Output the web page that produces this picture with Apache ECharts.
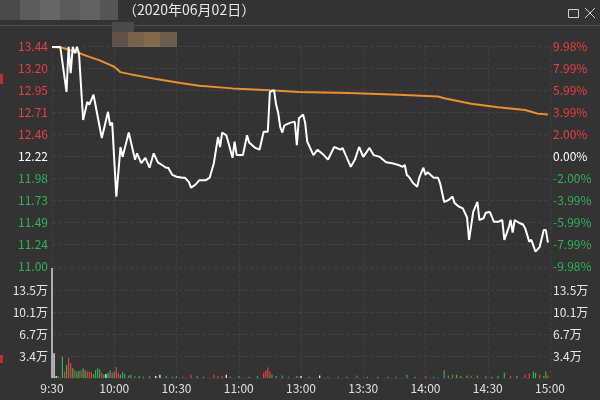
<!DOCTYPE html>
<html><head><meta charset="utf-8">
<script src="https://cdn.jsdelivr.net/npm/echarts@6/dist/echarts.min.js"></script>
<style>html,body{margin:0;padding:0;background:#333333;}#c{width:600px;height:400px;}</style>
</head><body><div id="c"></div>
<script>
const LOW = 11.00;
const priceTicks = ['11.00','11.24','11.49','11.73','11.98','12.22','12.46','12.71','12.95','13.20','13.44'];
const pctTicks = ['-9.98%','-7.99%','-5.99%','-3.99%','-2.00%','0.00%','2.00%','3.99%','5.99%','7.99%','9.98%'];
const volTicks = ['', '3.4万', '6.7万', '10.1万', '13.5万', ''];
const timeTicks = ['9:30','10:00','10:30','11:00','13:00','13:30','14:00','14:30','15:00'];

const priceMin = [0,4,7,8,9,10,11,12,13,15,17,18,20,24,27,28,29,31,33,34,37,40,41,43,45,47,49,51,53,55,56,58,60,63,64,66,67,69,71,74,76,78,80,81,82,84,85,87,88,89,92,93,94,95,98,100,102,104,105,107,108,109,110,111,112,115,117,118,119,121,122,123,126,128,131,133,136,139,140,144,146,148,150,153,155,158,161,164,167,169,170,171,172,174,176,177,179,180,181,184,186,187,189,191,193,194,196,198,200,201,203,205,206,208,209,211,213,215,217,218,220,221,222,223,225,227,228,230,231,233,235,237,238,239];
const priceVal = [13.43,13.43,12.93,13.43,13.14,13.43,13.36,13.43,13.36,12.62,12.82,12.79,12.90,12.42,12.71,12.56,12.59,11.77,12.32,12.21,12.48,12.18,12.25,12.14,12.20,12.09,12.25,12.15,12.12,12.09,12.09,12.01,11.99,11.98,11.98,11.93,11.87,11.90,11.95,11.95,11.98,12.14,12.43,12.32,12.48,12.45,12.37,12.20,12.38,12.23,12.23,12.34,12.45,12.37,12.31,12.29,12.49,12.49,12.93,12.95,12.79,12.70,12.54,12.48,12.56,12.59,12.60,12.34,12.64,12.68,12.59,12.38,12.23,12.29,12.23,12.18,12.32,12.29,12.31,12.10,12.18,12.32,12.21,12.31,12.23,12.21,12.15,12.14,12.12,12.10,12.12,12.01,11.99,11.92,11.88,11.98,12.09,12.01,12.04,11.98,11.98,11.92,11.71,11.73,11.77,11.70,11.66,11.64,11.54,11.29,11.60,11.71,11.51,11.53,11.59,11.60,11.49,11.49,11.51,11.29,11.42,11.51,11.37,11.51,11.48,11.46,11.42,11.27,11.29,11.16,11.21,11.40,11.40,11.26];

const avgMin = [0,5,12,18,23,26,30,33,39,51,62,71,87,105,119,143,167,186,189,202,215,228,231,234,239];
const avgVal = [13.43,13.42,13.37,13.32,13.28,13.25,13.21,13.15,13.12,13.07,13.03,13.00,12.97,12.95,12.93,12.92,12.90,12.88,12.86,12.80,12.76,12.73,12.71,12.69,12.68];

const volMin = [0,1,2,3,5,6,7,8,9,10,11,12,13,14,15,16,17,18,19,20,21,22,23,24,25,26,27,28,29,30,31,32,33,34,35,37,38,40,42,44,47,50,52,55,58,60,63,67,70,73,78,80,82,84,86,90,95,99,102,103,104,105,106,108,111,114,118,120,124,129,133,138,142,147,152,157,162,166,171,175,180,184,189,191,193,195,197,200,202,205,209,212,215,218,221,224,228,230,232,233,235,237,238,239];
const volVal = [16.9,3.8,0.3,0.3,3.3,1.0,2.0,3.1,2.3,1.5,1.2,1.0,1.1,1.2,1.5,1.2,1.0,1.0,0.9,0.6,1.2,1.5,1.3,0.8,0.5,0.6,0.8,1.2,0.8,1.0,1.7,0.8,0.5,0.9,0.6,0.4,0.5,0.3,0.3,0.2,0.3,0.3,0.5,0.3,0.2,0.3,0.2,0.5,0.3,0.2,0.5,0.3,0.3,0.5,0.2,0.3,0.2,0.3,0.8,1.1,1.6,1.0,0.5,0.3,0.4,0.2,0.3,0.3,0.2,0.4,0.2,0.2,0.2,0.4,0.2,0.2,0.2,0.2,0.5,0.2,0.3,0.2,1.2,0.4,0.5,0.5,0.3,0.4,0.3,0.4,0.3,0.2,0.3,0.8,0.3,0.3,0.5,0.7,1.0,0.8,0.5,0.3,1.0,0.4];
const volDir = ['f','f','f','d','d','u','d','u','u','d','u','d','d','u','d','d','u','u','u','d','d','d','d','u','d','f','d','d','u','d','u','u','d','d','d','d','d','u','d','d','d','f','f','d','d','d','u','u','d','d','u','u','u','f','d','d','d','d','u','u','u','u','d','d','d','u','d','f','d','f','d','u','d','u','d','d','d','u','d','d','u','d','d','d','u','d','d','d','u','d','u','d','d','d','u','d','u','u','d','d','u','d','d','u'];

const RED = '#e8403f', GREEN = '#2fb455', WHITE = '#ffffff';
const FONT = 'Noto Sans CJK SC';
const P_INT = 0.244, V_INT = 3.37;

const chart = echarts.init(document.getElementById('c'), null, {renderer: 'canvas'});
const split = {show: true, lineStyle: {color: 'rgba(255,255,255,0.06)', type: 'dashed', width: 1}};

function priceColor(v) { const i = Math.round(Number(v) / P_INT); return i > 5 ? RED : (i === 5 ? WHITE : GREEN); }

chart.setOption({
  animation: false,
  backgroundColor: '#333333',
  grid: [
    {left: 52, right: 50, top: 46, height: 220},
    {left: 52, right: 50, top: 268, height: 110}
  ],
  xAxis: [
    {type: 'value', gridIndex: 0, min: 0, max: 240, interval: 30,
     axisLine: {show: false}, axisTick: {show: false}, axisLabel: {show: false}, splitLine: split},
    {type: 'value', gridIndex: 1, min: 0, max: 240, interval: 30,
     axisLine: {show: false}, axisTick: {show: false}, splitLine: split,
     axisLabel: {color: '#e0e0e0', fontFamily: FONT, fontSize: 12, margin: 4,
       formatter: v => timeTicks[Math.round(v / 30)]}}
  ],
  yAxis: [
    {type: 'value', gridIndex: 0, min: 0, max: 2.44, interval: P_INT, position: 'left',
     axisLine: {show: false}, axisTick: {show: false}, splitLine: split,
     axisLabel: {fontFamily: FONT, fontSize: 12, margin: 4, color: priceColor,
       formatter: v => priceTicks[Math.round(v / P_INT)]}},
    {type: 'value', gridIndex: 0, min: 0, max: 2.44, interval: P_INT, position: 'right',
     axisLine: {show: false}, axisTick: {show: false}, splitLine: {show: false},
     axisLabel: {fontFamily: FONT, fontSize: 12, margin: 3, color: priceColor,
       formatter: v => pctTicks[Math.round(v / P_INT)]}},
    {type: 'value', gridIndex: 1, min: 0, max: 16.85, interval: V_INT, position: 'left',
     axisLine: {show: false}, axisTick: {show: false}, splitLine: split,
     axisLabel: {fontFamily: FONT, fontSize: 12, margin: 4, color: '#e6e6e6',
       formatter: v => volTicks[Math.round(v / V_INT)]}},
    {type: 'value', gridIndex: 1, min: 0, max: 16.85, interval: V_INT, position: 'right',
     axisLine: {show: false}, axisTick: {show: false}, splitLine: {show: false},
     axisLabel: {fontFamily: FONT, fontSize: 12, margin: 3, color: '#e6e6e6',
       formatter: v => volTicks[Math.round(v / V_INT)]}}
  ],
  series: [
    {type: 'bar', xAxisIndex: 1, yAxisIndex: 2, barWidth: 1.2, silent: true,
     data: volMin.map((m, i) => ({value: [m, volVal[i]],
       itemStyle: {color: volDir[i] === 'u' ? RED : (volDir[i] === 'd' ? GREEN : WHITE)}}))},
    {type: 'line', xAxisIndex: 0, yAxisIndex: 0, showSymbol: false, silent: true,
     lineStyle: {color: '#e8912f', width: 2},
     data: avgMin.map((m, i) => [m, avgVal[i] - LOW])},
    {type: 'line', xAxisIndex: 0, yAxisIndex: 0, showSymbol: false, silent: true,
     lineStyle: {color: '#ffffff', width: 2},
     data: priceMin.map((m, i) => [m, priceVal[i] - LOW])}
  ],
  graphic: [
    {type: 'rect', shape: {x: 0, y: 25, width: 600, height: 1}, style: {fill: '#4e4e4e'}},
    {type: 'rect', shape: {x: 0, y: 0, width: 20, height: 20}, style: {fill: '#4a4a4a'}},
    {type: 'rect', shape: {x: 20, y: 0, width: 20, height: 20}, style: {fill: '#5c5c5c'}},
    {type: 'rect', shape: {x: 40, y: 0, width: 20, height: 20}, style: {fill: '#666666'}},
    {type: 'rect', shape: {x: 60, y: 0, width: 20, height: 20}, style: {fill: '#5a5a5a'}},
    {type: 'rect', shape: {x: 80, y: 0, width: 20, height: 20}, style: {fill: '#626262'}},
    {type: 'rect', shape: {x: 100, y: 0, width: 18, height: 20}, style: {fill: '#555555'}},
    {type: 'rect', shape: {x: 112, y: 22, width: 22, height: 10}, style: {fill: '#4a4a4a'}},
    {type: 'rect', shape: {x: 112, y: 32, width: 16, height: 15}, style: {fill: '#5e5248'}},
    {type: 'rect', shape: {x: 128, y: 32, width: 16, height: 15}, style: {fill: '#7a6248'}},
    {type: 'rect', shape: {x: 144, y: 32, width: 16, height: 15}, style: {fill: '#86694a'}},
    {type: 'rect', shape: {x: 160, y: 32, width: 17, height: 15}, style: {fill: '#6e5c4c'}},
    {type: 'text', left: 123, top: 3, style: {text: '（2020年06月02日）', fill: '#e8e8e8', font: '14px "Noto Sans CJK SC"'}},
    {type: 'rect', shape: {x: 568.5, y: 9.5, width: 10, height: 8}, style: {fill: 'none', stroke: '#cfcfcf', lineWidth: 1}},
    {type: 'line', shape: {x1: 585, y1: 8, x2: 595, y2: 18}, style: {stroke: '#cfcfcf', lineWidth: 1}},
    {type: 'line', shape: {x1: 595, y1: 8, x2: 585, y2: 18}, style: {stroke: '#cfcfcf', lineWidth: 1}},
    {type: 'rect', shape: {x: 0, y: 74, width: 3, height: 10}, style: {fill: '#b83030'}},
    {type: 'rect', shape: {x: 0, y: 355, width: 3, height: 8}, style: {fill: '#b83030'}}
  ]
});
</script>
</body></html>
